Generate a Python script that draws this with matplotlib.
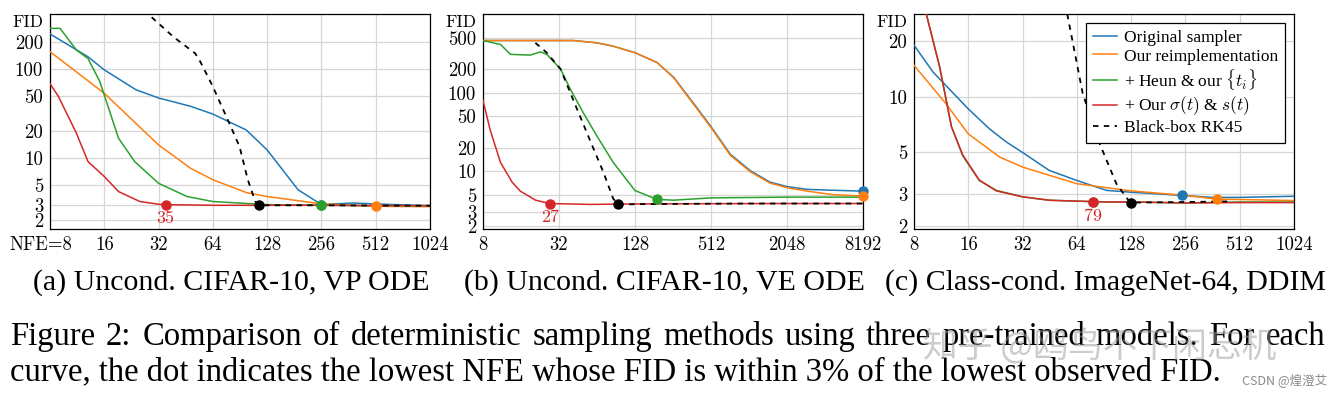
import numpy as np
import matplotlib
matplotlib.use("Agg")
import matplotlib.pyplot as plt
from matplotlib.lines import Line2D
from matplotlib.transforms import ScaledTranslation

plt.rcParams['mathtext.fontset'] = 'cm'
plt.rcParams['axes.formatter.use_mathtext'] = True

# Colores de las series
C_ORIG = '#1f77b4'
C_REIMP = '#ff7f0e'
C_HEUN = '#2ca02c'
C_OURS = '#d62728'

# (a) Uncond. CIFAR-10, VP ODE
a_orig_nfe = [8, 13, 16, 24, 32, 48, 64, 98, 128, 190, 256, 383, 512, 1024]
a_orig_fid = [245, 136, 97, 58, 47, 38, 31, 20.6, 12.3, 4.4, 3.0, 3.13, 3.05, 2.92]
a_reimp_nfe = [8, 16, 32, 48, 64, 98, 128, 256, 512, 1024]
a_reimp_fid = [155, 53, 14, 7.7, 5.7, 4.1, 3.7, 3.06, 2.87, 2.85]
a_heun_nfe = [8, 9.1, 11.2, 13, 15.1, 19.2, 23.6, 32, 46, 64, 128, 256, 512, 1024]
a_heun_fid = [283, 283, 162, 130, 72, 16.6, 9.1, 5.2, 3.7, 3.25, 3.0, 2.95, 2.92, 2.92]
a_ours_nfe = [8, 8.9, 11.2, 13, 16, 19.2, 25.2, 32, 35, 64, 128, 256, 512, 1024]
a_ours_fid = [68, 49, 19, 9.1, 6.2, 4.2, 3.25, 3.03, 3.0, 2.95, 2.95, 2.95, 2.93, 2.92]
a_rk_nfe = [27, 28, 38.6, 51, 54.5, 64, 79, 90, 100, 110, 115, 256, 512, 1024]
a_rk_fid = [470, 410, 228, 149, 120, 63, 24.4, 13.4, 5.7, 3.25, 2.95, 2.95, 2.93, 2.92]
# puntos: (nfe, fid) por serie: orig, reimp, heun, ours, rk45
a_dots = [(256, 3.0), (512, 2.87), (256, 2.95), (35, 3.0), (115, 2.95)]

# (b) Uncond. CIFAR-10, VE ODE
b_orig_nfe = [8, 41.6, 64, 86, 128, 191, 259, 373, 512, 728, 1048, 1500, 2048, 2960, 4750, 8192]
b_orig_fid = [460, 460, 430, 390, 322, 242, 157, 73, 37, 16.5, 10.2, 7.3, 6.4, 5.9, 5.75, 5.6]
b_reimp_nfe = [8, 41.6, 64, 86, 128, 191, 259, 373, 512, 728, 1048, 1500, 2048, 2960, 4750, 8192]
b_reimp_fid = [460, 460, 430, 390, 322, 242, 155, 71, 36, 16, 9.9, 7.1, 6.2, 5.6, 5.05, 4.85]
b_heun_nfe = [8, 11, 13.2, 18.9, 22.8, 25.6, 32.9, 39.2, 50, 64, 86, 128, 191, 259, 512, 2048, 8192]
b_heun_fid = [460, 410, 307, 300, 330, 307, 200, 112, 55, 28, 13, 5.7, 4.4, 4.3, 4.6, 4.7, 4.7]
b_ours_nfe = [8, 9.1, 11, 13.6, 15.8, 20.9, 27, 56, 128, 512, 2048, 8192]
b_ours_fid = [80, 34, 13, 7.3, 5.6, 4.3, 3.9, 3.8, 3.85, 3.88, 3.9, 3.9]
b_rk_nfe = [20.8, 25.6, 32.9, 41.6, 56, 72, 86, 94, 200, 1000, 8192]
b_rk_fid = [430, 322, 200, 80, 25.4, 9.7, 4.5, 3.8, 3.85, 3.9, 3.9]
b_dots = [(8192, 5.6), (8192, 4.85), (191, 4.4), (27, 3.9), (94, 3.8)]

# (c) Class-cond. ImageNet-64, DDIM
c_orig_nfe = [8, 10.2, 16, 21, 26, 32, 45, 64, 93.5, 128, 246, 360, 512, 1024]
c_orig_fid = [19, 13.6, 8.6, 6.7, 5.7, 5.0, 4.0, 3.53, 3.12, 3.05, 2.93, 2.86, 2.86, 2.9]
c_reimp_nfe = [8, 12, 16, 23.9, 32, 64, 128, 256, 383, 1024]
c_reimp_fid = [14.8, 9.2, 6.3, 4.72, 4.17, 3.39, 3.1, 2.93, 2.8, 2.75]
c_heun_nfe = [8, 9.36, 11.1, 12.9, 14.9, 18.4, 22.9, 32, 45, 64, 93.5, 128, 256, 512, 1024]
c_heun_fid = [40, 28, 14.5, 6.9, 4.8, 3.53, 3.12, 2.88, 2.76, 2.73, 2.7, 2.7, 2.67, 2.7, 2.7]
c_ours_nfe = [8, 9.36, 11.1, 12.9, 14.9, 18.4, 22.9, 32, 45, 64, 93.5, 128, 256, 512, 1024]
c_ours_fid = [40, 28, 14.5, 6.9, 4.85, 3.55, 3.1, 2.88, 2.76, 2.73, 2.7, 2.7, 2.67, 2.68, 2.68]
c_rk_nfe = [55, 56.6, 69, 85.7, 106, 122, 128, 256, 436]
c_rk_fid = [32, 28, 10.4, 5.57, 3.39, 2.81, 2.68, 2.7, 2.72]
c_dots = [(246, 2.93), (383, 2.8), (79, 2.7), (79, 2.7), (128, 2.68)]

x_ticks_a = [8, 16, 32, 64, 128, 256, 512, 1024]
x_labels_a = ['NFE=8', '16', '32', '64', '128', '256', '512', '1024']
x_ticks_b = [8, 32, 128, 512, 2048, 8192]
x_ticks_c = [8, 16, 32, 64, 128, 256, 512, 1024]
y_ticks_a = [2, 3, 5, 10, 20, 50, 100, 200]
y_ticks_b = [2, 3, 5, 10, 20, 50, 100, 200, 500]
y_ticks_c = [2, 3, 5, 10, 20]

legend_labels = ['Original sampler', 'Our reimplementation',
                 r'+ Heun & our $\{t_i\}$', r'+ Our $\sigma(t)$ & $s(t)$',
                 'Black-box RK45']
subcaptions = ['(a) Uncond. CIFAR-10, VP ODE', '(b) Uncond. CIFAR-10, VE ODE',
               '(c) Class-cond. ImageNet-64, DDIM']
subcaption_x = [231, 664, 1105]
red_labels = ['35', '27', '79']

caption_1 = ('Figure 2: Comparison of deterministic sampling methods using three '
             'pre-trained models. For each')
caption_2 = ('curve, the dot indicates the lowest NFE whose FID is within 3% '
             'of the lowest observed FID.')

W, H = 1339, 397
fig = plt.figure(figsize=(W / 100, H / 100), dpi=100)

TICK_FONT = 'cmr10'
SERIF = ['Liberation Serif', 'DejaVu Serif']

paneles = [
    dict(left=50, xlim=(8, 1024), ylim=(1.6, 410), xt=x_ticks_a, xl=x_labels_a, yt=y_ticks_a,
         series=[(a_orig_nfe, a_orig_fid), (a_reimp_nfe, a_reimp_fid), (a_heun_nfe, a_heun_fid),
                 (a_ours_nfe, a_ours_fid), (a_rk_nfe, a_rk_fid)], dots=a_dots),
    dict(left=483, xlim=(8, 8192), ylim=(1.85, 1000), xt=x_ticks_b, xl=[str(v) for v in x_ticks_b],
         yt=y_ticks_b,
         series=[(b_orig_nfe, b_orig_fid), (b_reimp_nfe, b_reimp_fid), (b_heun_nfe, b_heun_fid),
                 (b_ours_nfe, b_ours_fid), (b_rk_nfe, b_rk_fid)], dots=b_dots),
    dict(left=914, xlim=(8, 1024), ylim=(1.93, 28), xt=x_ticks_c, xl=[str(v) for v in x_ticks_c],
         yt=y_ticks_c,
         series=[(c_orig_nfe, c_orig_fid), (c_reimp_nfe, c_reimp_fid), (c_heun_nfe, c_heun_fid),
                 (c_ours_nfe, c_ours_fid), (c_rk_nfe, c_rk_fid)], dots=c_dots),
]

colores = [C_ORIG, C_REIMP, C_HEUN, C_OURS, 'black']
ax_w, ax_top, ax_bot = 380, 14, 229

for i, p in enumerate(paneles):
    ax = fig.add_axes([p['left'] / W, 1 - ax_bot / H, ax_w / W, (ax_bot - ax_top) / H])
    ax.set_xscale('log', base=2)
    ax.set_yscale('log')
    ax.set_xlim(*p['xlim'])
    ax.set_ylim(*p['ylim'])

    for (x, y), col in zip(p['series'], colores):
        if col == 'black':
            ax.plot(x, y, color=col, lw=1.3, ls=(0, (3, 3)), zorder=4)
        else:
            ax.plot(x, y, color=col, lw=1.1, zorder=3)
    for (x, y), col in zip(p['dots'], colores):
        ax.plot(x, y, 'o', color=col, ms=6.5, zorder=5, clip_on=False)

    # etiqueta roja con el NFE del punto rojo
    rx, ry = p['dots'][3]
    ax.annotate(red_labels[i], (rx, ry), xytext=(0, -10), textcoords='offset points',
                ha='center', va='center', color=C_OURS, fontsize=13, family=TICK_FONT)

    ax.set_xticks(p['xt'], p['xl'])
    ax.set_yticks(p['yt'], [str(v) for v in p['yt']])
    ax.minorticks_off()
    ax.tick_params(length=0, pad=5, labelsize=13.5)
    for lab in ax.get_xticklabels() + ax.get_yticklabels():
        lab.set_family(TICK_FONT)
    if i == 0:
        lab0 = ax.get_xticklabels()[0]
        lab0.set_transform(lab0.get_transform() +
                           ScaledTranslation(-9 / 100, 0, fig.dpi_scale_trans))
    ax.grid(True, color='#d6d6d6', lw=0.9)
    ax.set_axisbelow(True)
    for s in ax.spines.values():
        s.set_linewidth(0.9)

    ax.text(-0.018, 0.963, 'FID', transform=ax.transAxes, ha='right', va='center',
            fontsize=12.5, family=TICK_FONT)

    fig.text(subcaption_x[i] / W, 1 - 283 / H, subcaptions[i], ha='center',
             va='center', fontsize=21.5, family=SERIF)

    if i == 2:
        handles = [Line2D([], [], color=c, lw=1.1) for c in colores[:4]]
        handles.append(Line2D([], [], color='black', lw=1.3, ls=(0, (3, 3))))
        leg = ax.legend(handles, legend_labels, loc='upper right',
                        prop={'family': SERIF, 'size': 12.5}, fancybox=False,
                        framealpha=1, edgecolor='black', handlelength=1.4,
                        handletextpad=0.4, labelspacing=0.15, borderpad=0.4,
                        borderaxespad=0.5)
        leg.get_frame().set_linewidth(0.9)
        leg.set_zorder(10)

# Pie de figura, primera linea justificada
x0, x1 = 10, 1325
y1 = 1 - 337 / H
words = caption_1.split()
tw = [fig.text(0, y1, w, ha='left', va='center', fontsize=23.5, family=SERIF) for w in words]
renderer = fig.canvas.get_renderer()
widths = [t.get_window_extent(renderer).width for t in tw]
gap = (x1 - x0 - sum(widths)) / (len(words) - 1)
x = x0
for t, w in zip(tw, widths):
    t.set_x(x / W)
    x += w + gap

fig.text(x0 / W, 1 - 372 / H, caption_2, ha='left', va='center', fontsize=23.5, family=SERIF)

# marcas de agua
fig.text(1100 / W, 1 - 347 / H, '知乎 @鸥鸟不下闲忘机', ha='center', va='center', fontsize=25,
         color='#9a9a9a', alpha=0.5, family=['Noto Sans CJK SC', 'DejaVu Sans'])
fig.text(1327 / W, 1 - 381 / H, 'CSDN @煌澄艾', ha='right', va='center', fontsize=9,
         color='#8a8a8a', family=['Noto Sans CJK SC', 'DejaVu Sans'])

fig.savefig('out.png', dpi=100)
